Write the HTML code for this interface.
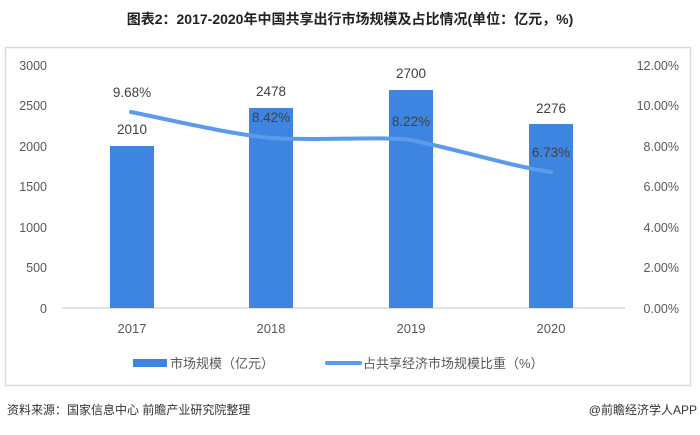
<!DOCTYPE html>
<html><head><meta charset="utf-8"><style>
body{margin:0;width:700px;height:430px;background:#fff;overflow:hidden}
</style></head><body>
<svg width="700" height="430" xmlns="http://www.w3.org/2000/svg" font-family="Liberation Sans, Noto Sans CJK SC, sans-serif">
<text x="350" y="24" text-anchor="middle" font-size="14" font-weight="bold" fill="#222">图表2：2017-2020年中国共享出行市场规模及占比情况(单位：亿元，%)</text>
<rect x="5.5" y="47.5" width="685" height="338" fill="none" stroke="#d9d9d9" stroke-width="1.5"/>
<line x1="62" y1="308" x2="625" y2="308" stroke="#d9d9d9" stroke-width="1.5"/>
<g font-size="12.5" fill="#595959" text-anchor="end">
<text x="47" y="70">3000</text>
<text x="47" y="110">2500</text>
<text x="47" y="151">2000</text>
<text x="47" y="191">1500</text>
<text x="47" y="232">1000</text>
<text x="47" y="272">500</text>
<text x="47" y="313">0</text>
</g>
<g font-size="12.5" fill="#595959" text-anchor="end">
<text x="679" y="70">12.00%</text>
<text x="679" y="110">10.00%</text>
<text x="679" y="151">8.00%</text>
<text x="679" y="191">6.00%</text>
<text x="679" y="232">4.00%</text>
<text x="679" y="272">2.00%</text>
<text x="679" y="313">0.00%</text>
</g>
<g fill="#3d85e0">
<rect x="110" y="146" width="44" height="162"/>
<rect x="249" y="108" width="44" height="200"/>
<rect x="389" y="90" width="44" height="218"/>
<rect x="529" y="124" width="44" height="184"/>
</g>
<path d="M131,112 C180,122 230,134 271,138 C320,141 380,136 411,140 C460,150 510,166 551,172" fill="none" stroke="#5b9bea" stroke-width="4" stroke-linecap="round"/>
<g font-size="13.5" fill="#404040" text-anchor="middle">
<text x="132" y="134">2010</text>
<text x="271" y="96">2478</text>
<text x="411" y="78">2700</text>
<text x="551" y="113">2276</text>
<text x="132" y="97">9.68%</text>
<text x="271" y="122">8.42%</text>
<text x="411" y="126">8.22%</text>
<text x="551" y="157">6.73%</text>
</g>
<g font-size="13" fill="#595959" text-anchor="middle">
<text x="132" y="333">2017</text>
<text x="271" y="333">2018</text>
<text x="411" y="333">2019</text>
<text x="551" y="333">2020</text>
</g>
<rect x="133" y="359" width="34" height="8" fill="#3d85e0"/>
<text x="170" y="368" font-size="13" fill="#595959">市场规模（亿元）</text>
<line x1="327" y1="363" x2="360" y2="363" stroke="#5b9bea" stroke-width="4" stroke-linecap="round"/>
<text x="363" y="368" font-size="13" fill="#595959">占共享经济市场规模比重（%）</text>
<text x="7" y="414" font-size="12" fill="#333">资料来源：国家信息中心 前瞻产业研究院整理</text>
<text x="697" y="414" font-size="12" fill="#333" text-anchor="end">@前瞻经济学人APP</text>
</svg>
</body></html>
